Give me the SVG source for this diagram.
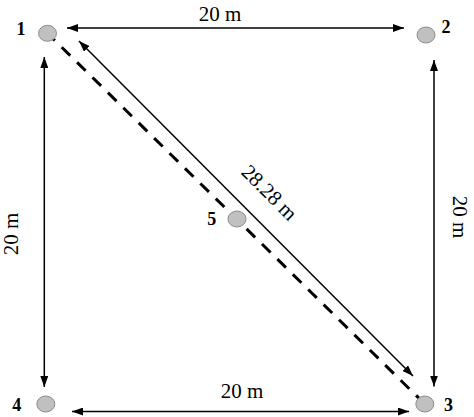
<svg xmlns="http://www.w3.org/2000/svg" width="474" height="417" viewBox="0 0 474 417">
<style>
.node{fill:#c0c0c0;stroke:#8c8c8c;stroke-width:1}
.num{font-family:"Liberation Serif","Times New Roman",serif;font-weight:bold;font-size:18px;fill:#000;text-anchor:middle}
.dim{font-family:"Liberation Serif","Times New Roman",serif;font-size:21px;fill:#000;text-anchor:middle}
.arr{stroke:#000;stroke-width:1.5;fill:none;marker-start:url(#ah);marker-end:url(#ah)}
.dash{stroke:#000;stroke-width:3;fill:none;stroke-dasharray:12 9.6;stroke-dashoffset:1.7}
</style>
<defs>
<marker id="ah" viewBox="0 0 11 8" refX="11" refY="4" markerWidth="11" markerHeight="8" markerUnits="userSpaceOnUse" orient="auto-start-reverse">
<path d="M0,0 L11,4 L0,8 Z" fill="#000"/>
</marker>
</defs>
<rect width="474" height="417" fill="#fff"/>
<g id="connectors">
<line class="dash" x1="47.5" y1="33.3" x2="424.8" y2="404"/>
<line class="arr" x1="67" y1="28" x2="404" y2="28"/>
<line class="arr" x1="72" y1="411.5" x2="409" y2="411.5"/>
<line class="arr" x1="44.3" y1="57" x2="44.3" y2="387"/>
<line class="arr" x1="434" y1="60" x2="434" y2="386.5"/>
<line class="arr" x1="79" y1="41" x2="413" y2="376"/>
<text class="dim" x="220" y="21">20 m</text>
<text class="dim" x="242" y="398">20 m</text>
<text class="dim" transform="translate(18,234) rotate(-90)">20 m</text>
<text class="dim" transform="translate(453,217) rotate(90)">20 m</text>
<text class="dim" transform="translate(264.5,197.5) rotate(45)">28.28 m</text>
</g>
<g id="node1"><ellipse class="node" cx="47.5" cy="33.3" rx="9" ry="8"/><text class="num" x="21" y="35">1</text></g>
<g id="node2"><ellipse class="node" cx="426" cy="35" rx="9" ry="8"/><text class="num" x="446" y="33">2</text></g>
<g id="node3"><ellipse class="node" cx="424.8" cy="404" rx="9" ry="8"/><text class="num" x="448.5" y="411">3</text></g>
<g id="node4"><ellipse class="node" cx="45.8" cy="404" rx="9" ry="8"/><text class="num" x="16.7" y="411">4</text></g>
<g id="node5"><ellipse class="node" cx="237" cy="219" rx="9" ry="8"/><text class="num" x="211.7" y="225">5</text></g>
</svg>
